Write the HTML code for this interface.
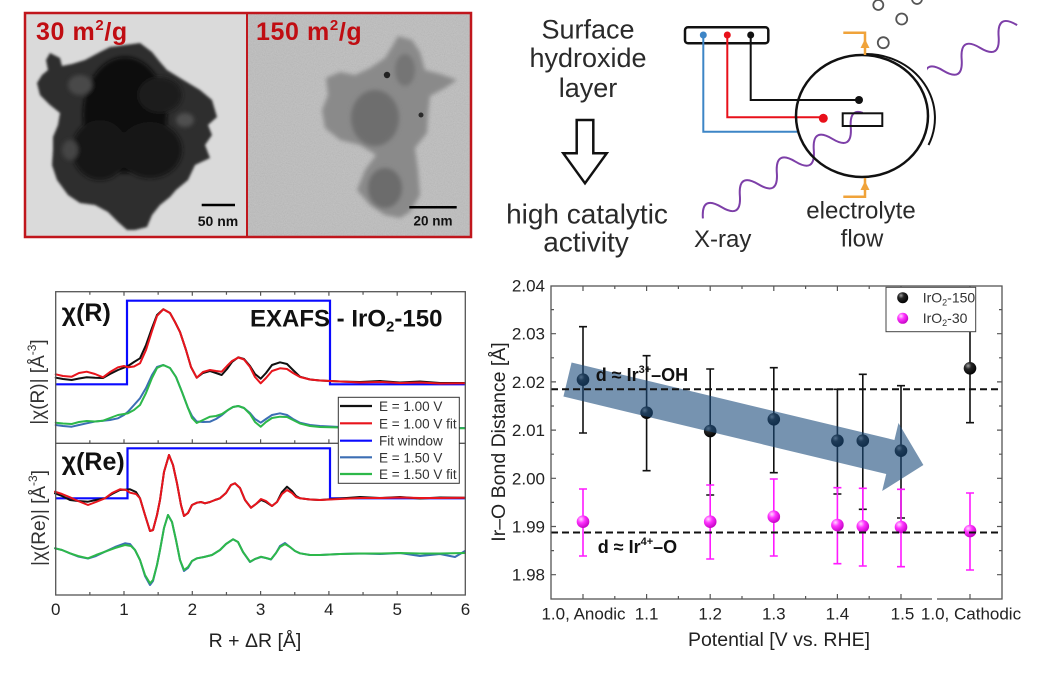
<!DOCTYPE html>
<html><head><meta charset="utf-8">
<style>
html,body{margin:0;padding:0;background:#fff;}
svg{display:block;}
text{font-family:"Liberation Sans",Arial,sans-serif;}
</style></head>
<body>
<svg width="1051" height="675" viewBox="0 0 1051 675" xmlns="http://www.w3.org/2000/svg">
<defs>
  <radialGradient id="gb" cx="0.35" cy="0.3" r="0.75">
    <stop offset="0" stop-color="#a0a0a0"/><stop offset="0.35" stop-color="#252525"/><stop offset="1" stop-color="#000"/>
  </radialGradient>
  <radialGradient id="gm" cx="0.35" cy="0.3" r="0.75">
    <stop offset="0" stop-color="#ffd8ff"/><stop offset="0.4" stop-color="#ff33ff"/><stop offset="1" stop-color="#c000c0"/>
  </radialGradient>
  <filter id="b1" x="-10%" y="-10%" width="120%" height="120%"><feGaussianBlur stdDeviation="1.2"/></filter>
  <filter id="b2" x="-10%" y="-10%" width="120%" height="120%"><feGaussianBlur stdDeviation="2.2"/></filter>
  <filter id="noise"><feTurbulence type="fractalNoise" baseFrequency="0.9" numOctaves="1" seed="4"/><feColorMatrix type="saturate" values="0"/><feComponentTransfer><feFuncA type="table" tableValues="0 0.3"/></feComponentTransfer></filter>
  <clipPath id="tl"><rect x="26" y="14" width="221" height="222"/></clipPath>
  <clipPath id="tr"><rect x="247" y="14" width="223" height="222"/></clipPath>
  <clipPath id="wc"><path clip-rule="evenodd" d="M0,0H1051V675H0Z M863,100 L927,60 L927,98 L863,140Z"/></clipPath>
</defs>

<!-- ============ TEM images ============ -->
<rect x="26" y="14" width="221" height="222" fill="#dadada"/>
<rect x="247" y="14" width="223" height="222" fill="#bdbdbd"/>
<rect x="247" y="14" width="223" height="222" filter="url(#noise)" clip-path="url(#tr)"/>
<g clip-path="url(#tl)">
  <path filter="url(#b1)" fill="#2e2e2e" d="M50,53 L60,58 L62,66 L72,64 L85,60 L100,52 L110,47 L125,45 L140,43 L152,52 L160,62 L167,70 L180,78 L200,90 L212,100 L217,117 L208,125 L212,135 L205,145 L210,158 L195,165 L188,180 L176,190 L170,197 L160,205 L152,215 L147,227 L135,230 L127,230 L118,222 L108,212 L95,205 L80,203 L68,195 L57,180 L52,165 L53,150 L53,137 L58,125 L60,113 L50,105 L40,95 L37,83 L42,75 L48,70 L46,60 Z"/>
  <g filter="url(#b2)">
    <ellipse cx="125" cy="115" rx="42" ry="58" fill="#080808"/>
    <ellipse cx="100" cy="150" rx="28" ry="30" fill="#141414"/>
    <ellipse cx="150" cy="150" rx="32" ry="28" fill="#161616"/>
    <ellipse cx="160" cy="95" rx="22" ry="18" fill="#1c1c1c"/>
    <ellipse cx="80" cy="85" rx="12" ry="10" fill="#4a4a4a"/>
    <ellipse cx="185" cy="120" rx="9" ry="7" fill="#505050"/>
    <ellipse cx="70" cy="150" rx="8" ry="10" fill="#444"/>
  </g>
</g>
<g clip-path="url(#tr)">
  <path filter="url(#b2)" fill="#8a8a8a" d="M398,36 L412,40 L420,52 L425,70 L440,74 L457,80 L445,88 L430,96 L428,115 L427,133 L415,148 L418,170 L420,195 L410,212 L400,218 L385,215 L370,205 L357,190 L365,170 L376,155 L360,145 L340,140 L325,128 L322,110 L328,95 L326,78 L340,72 L355,75 L370,68 L385,58 L393,45 Z"/>
  <g filter="url(#b2)">
    <ellipse cx="375" cy="118" rx="24" ry="28" fill="#6e6e6e"/>
    <ellipse cx="385" cy="188" rx="17" ry="20" fill="#6c6c6c"/>
    <ellipse cx="405" cy="70" rx="10" ry="16" fill="#747474"/>
  </g>
  <circle cx="387" cy="75" r="3.2" fill="#222"/>
  <circle cx="421" cy="115" r="2.5" fill="#2a2a2a"/>
</g>
<rect x="25" y="13" width="446" height="224" fill="none" stroke="#c0161c" stroke-width="2.5"/>
<line x1="247" y1="13" x2="247" y2="237" stroke="#c0161c" stroke-width="2"/>
<text x="36" y="40" font-size="25" font-weight="bold" fill="#c00d12" letter-spacing="0.6">30 m<tspan font-size="15" dy="-10">2</tspan><tspan dy="10">/g</tspan></text>
<text x="256" y="40" font-size="25" font-weight="bold" fill="#c00d12" letter-spacing="0.6">150 m<tspan font-size="15" dy="-10">2</tspan><tspan dy="10">/g</tspan></text>
<line x1="201.7" y1="205" x2="235" y2="205" stroke="#000" stroke-width="2.5"/>
<text x="218" y="226" font-size="14" font-weight="bold" text-anchor="middle" fill="#111">50 nm</text>
<line x1="409.3" y1="207.3" x2="456.7" y2="207.3" stroke="#000" stroke-width="2.5"/>
<text x="433" y="225.5" font-size="13.5" font-weight="bold" text-anchor="middle" fill="#111">20 nm</text>

<!-- ============ Schematic ============ -->
<g fill="#2a2a2a" font-size="27" text-anchor="middle">
  <text x="588" y="38.5">Surface</text>
  <text x="588" y="67">hydroxide</text>
  <text x="588" y="97">layer</text>
  <text x="587" y="223.5" font-size="28">high catalytic</text>
  <text x="586" y="251.5" font-size="28">activity</text>
</g>
<polygon points="576.7,120 593.3,120 593.3,153.3 606.7,153.3 585,183.3 563.3,153.3 576.7,153.3" fill="#fff" stroke="#111" stroke-width="2.5" stroke-linejoin="miter"/>

<!-- X-ray wave -->
<g clip-path="url(#wc)">
<path transform="translate(702.9,218.4) rotate(-31.6)" fill="none" stroke="#7d3fa8" stroke-width="2" d="M0,0 q10.85,-21 21.7,0 t21.7,0 t21.7,0 t21.7,0 t21.7,0 t21.7,0 t21.7,0 t21.7,0 t21.7,0 t21.7,0 t21.7,0 t21.7,0 t21.7,0 t21.7,0 t21.7,0 t21.7,0 t21.7,0"/>
</g>

<!-- wires -->
<rect x="685" y="27.3" width="83.3" height="16" rx="3" fill="none" stroke="#111" stroke-width="2.5"/>
<path d="M703.3,35 V131.7 H797" fill="none" stroke="#3d85c6" stroke-width="2"/>
<path d="M727.3,35 V117.3 H823" fill="none" stroke="#e8101a" stroke-width="2"/>
<path d="M750.7,35 V100 H859" fill="none" stroke="#111" stroke-width="2"/>
<circle cx="703.3" cy="35" r="3.5" fill="#3d85c6"/>
<circle cx="727.3" cy="35" r="3.5" fill="#e8101a"/>
<circle cx="750.7" cy="35" r="3.5" fill="#111"/>
<!-- cell -->
<ellipse cx="862" cy="116" rx="66" ry="61" fill="none" stroke="#111" stroke-width="2.5"/>
<path d="M866,54 A69,64 0 0 1 928.5,145" fill="none" stroke="#111" stroke-width="2"/>
<rect x="842.7" y="113.3" width="39.6" height="12.7" fill="none" stroke="#111" stroke-width="2"/>
<circle cx="823.3" cy="118.3" r="4.5" fill="#e8101a"/>
<circle cx="859" cy="100" r="4" fill="#111"/>
<!-- electrolyte flow -->
<path d="M843.3,32.7 H865 V55" fill="none" stroke="#f0a33a" stroke-width="2.5"/>
<polygon points="865,39 860.5,48 869.5,48" fill="#f0a33a"/>
<path d="M865,178 V196.7 H843.3" fill="none" stroke="#f0a33a" stroke-width="2.5"/>
<polygon points="865,181 860.5,190 869.5,190" fill="#f0a33a"/>
<!-- bubbles -->
<g fill="none" stroke="#555" stroke-width="1.8">
  <circle cx="878.3" cy="5" r="5"/>
  <circle cx="901.7" cy="19" r="5.5"/>
  <circle cx="883.3" cy="42.7" r="5.5"/>
  <circle cx="917" cy="-1" r="5"/>
</g>
<g fill="#2a2a2a" font-size="24">
  <text x="694" y="247">X-ray</text>
  <text x="861" y="218.5" text-anchor="middle">electrolyte</text>
  <text x="862" y="246.5" text-anchor="middle">flow</text>
</g>

<!-- ============ EXAFS plot ============ -->
<path d="M55.7,384.3 H127 V300.7 H330 V384.3 H465.3" fill="none" stroke="#0a0aff" stroke-width="2.2"/>
<path d="M55.7,498.3 H127.5 V448.3 H330 V498.3 H465.3" fill="none" stroke="#0a0aff" stroke-width="2.2"/>

<g fill="none" stroke-width="2" stroke-linejoin="round" stroke-linecap="round">
<path stroke="#111" d="M55.7,377.7 L63,379 L71.7,380 L79,378.5 L86.7,377.3 L95,377.8 L103,378 L110,374 L118,370 L128,366 L134,362 L140,358.3 L146,345 L152,328 L157,315 L163.3,309.3 L170,313 L175,322 L180,332 L186,350 L191,367 L196.7,377.7 L203,373 L210,371 L216,373 L221.7,375 L227,369 L232,362 L238.3,357.3 L244,359 L250,366 L255,374 L260.7,378.7 L266,373 L272,365 L280,362.3 L287,364 L293,370 L300,376.7 L310,379.5 L320,380.5 L340,381.5 L360,382 L380,381 L400,382.5 L420,381.5 L440,383 L465,383"/>
<path stroke="#e8141c" d="M55.7,374.3 L63,376 L71.7,376.7 L79,373 L86.7,371.7 L95,374 L103,377.3 L110,372 L118,367.3 L124,366 L128,367.3 L134,366.5 L140,363.3 L146,350 L152,331 L157,316 L163.3,309.3 L170,313 L175,322 L180,332 L186,350 L191,367 L196.7,377.7 L203,372 L210,370 L216,371 L221.7,371.7 L227,366 L232,361 L238.3,357.5 L244,359.5 L250,367 L255,377 L260.7,383.3 L266,378 L272,371 L280,368.3 L287,369 L293,373 L300,377 L310,379.5 L320,380.5 L340,381.5 L360,382.5 L380,382 L400,383 L420,382.5 L440,383.5 L465,383.3"/>
<path stroke="#3c6eb4" d="M55.7,425 L63,426 L71.7,426.7 L79,425 L86.7,423.3 L95,421.5 L103,420.7 L110,420 L118,418.3 L124,415 L128,411.7 L134,405 L140,398.3 L146,388 L152,375 L157,367 L163.3,365 L170,368 L176,377 L182,392 L188,408 L192,416 L196.7,421.5 L203,422 L210,421.7 L216,419 L222,415 L228,410 L233,407 L238.3,406 L244,408 L250,413 L255,419 L260.7,422.7 L266,419 L272,415 L280,413.3 L287,415 L293,419 L300,422.7 L310,425 L320,426 L340,427 L360,427 L380,427.5 L400,428 L420,428 L440,428 L465,428"/>
<path stroke="#2db84a" d="M55.7,422.7 L63,423.5 L71.7,424 L79,422 L86.7,421 L95,421.5 L103,420.7 L110,418 L118,415 L124,414 L128,413.3 L134,410 L140,405 L146,393 L152,378 L157,368 L163.3,365 L170,368 L176,377 L182,392 L188,408 L192,418 L196.7,423 L203,420 L210,416.7 L216,416 L222,414 L228,410 L233,407 L238.3,406 L244,408 L250,414 L255,422 L260.7,426.7 L266,422 L272,418 L280,416.7 L287,417 L293,420 L300,423.5 L310,426 L320,427 L340,427.5 L360,428 L380,428 L400,428.5 L465,428.3"/>
<path stroke="#111" d="M55,493.3 L62,496 L70,500 L78,501 L88,501.7 L96,500 L105,498.3 L112,494 L120,490 L130,489.3 L136,492 L140,498.3 L145,515 L150,531 L153,530 L157,515 L160,500 L164,472 L169,455 L173,465 L177,483.3 L181,505 L184,516 L188,513 L192,505 L197,502.7 L201,502 L205,503.3 L210,502 L215,500 L220,498.3 L226,493 L231,485 L235,483.3 L240,488 L245,500 L251,507.7 L256,504 L261,500 L266,502 L272,506 L277,502 L282,492 L287,486.7 L292,491 L296,496 L300,498.3 L310,499.5 L320,500 L340,498.5 L360,497 L380,498 L400,497 L420,498.5 L440,497.5 L465,497.7"/>
<path stroke="#e8141c" d="M55,491.7 L62,494 L70,497.3 L78,501 L88,505 L96,502 L105,498.3 L112,493 L120,489.3 L126,490 L130,492.7 L136,494 L140,498.3 L145,515 L150,531 L153,530 L157,515 L160,500 L164,472 L169,455 L173,465 L177,483.3 L181,505 L184,516 L188,513 L192,505 L197,502.7 L201,502 L205,503.3 L210,502 L215,500 L220,498.3 L226,493 L231,485 L235,483.3 L240,488 L245,500 L251,507.7 L256,504 L261,499 L266,501 L272,506 L277,502 L282,494 L287,490 L292,493 L296,497 L300,498.3 L310,499.5 L320,500 L340,499 L360,498 L380,498 L400,497.5 L420,498 L440,498 L465,497.7"/>
<path stroke="#3c6eb4" d="M55,548.3 L62,550 L70,553.3 L78,556.5 L88,558.5 L96,556 L105,551.7 L115,547 L125,543.3 L130,544 L135,550 L140,560 L145,576 L150,585 L153,581 L157,565 L160,550 L164,528 L168,515 L172,522 L176,540 L180,560 L184,571 L188,568 L192,561 L197,558.3 L204,557 L212,555 L220,550 L226,544 L233,539.3 L238,542 L243,552 L250,562 L255,559 L261,557 L266,558 L271,559.5 L276,553 L280,546 L285,543 L290,547 L295,551 L300,553.3 L310,555 L320,555 L340,554 L360,553.5 L380,554 L400,553 L420,556 L440,554 L455,557 L465,551"/>
<path stroke="#2db84a" d="M55,548.3 L62,550 L70,553.3 L78,556 L88,558.3 L96,555 L105,551.7 L115,548 L125,545 L131,546 L135,550 L140,560 L145,575 L150,583.3 L153,580 L157,565 L160,550 L164,528 L168,515 L172,522 L176,540 L180,560 L184,570 L188,567 L192,561 L197,558.3 L204,557 L212,555 L220,550 L226,544 L233,539.3 L238,542 L243,552 L250,561.7 L255,559 L261,556.7 L266,558 L271,559.3 L276,553 L280,547 L285,544 L290,547 L295,551 L300,553.3 L310,555 L320,555 L340,554 L360,553.5 L380,553.5 L400,553 L420,553.5 L440,553.5 L465,553"/>
</g>

<rect x="55.7" y="291.7" width="409.6" height="303.3" fill="none" stroke="#555" stroke-width="1.3"/>
<line x1="55.7" y1="443.3" x2="465.3" y2="443.3" stroke="#555" stroke-width="1.3"/>
<path stroke="#555" stroke-width="1.2" fill="none" d="
M89.85,291.7v3 M124,291.7v4 M158.15,291.7v3 M192.3,291.7v4 M226.45,291.7v3 M260.6,291.7v4 M294.75,291.7v3 M328.9,291.7v4 M363.05,291.7v3 M397.2,291.7v4 M431.35,291.7v3
M89.85,443.3v-3 M124,443.3v-4 M158.15,443.3v-3 M192.3,443.3v-4 M226.45,443.3v-3 M260.6,443.3v-4 M294.75,443.3v-3 M328.9,443.3v-4 M363.05,443.3v-3 M397.2,443.3v-4 M431.35,443.3v-3
M89.85,595v-3 M124,595v-4 M158.15,595v-3 M192.3,595v-4 M226.45,595v-3 M260.6,595v-4 M294.75,595v-3 M328.9,595v-4 M363.05,595v-3 M397.2,595v-4 M431.35,595v-3"/>

<rect x="338.3" y="397.3" width="121" height="86" fill="#fff" stroke="#333" stroke-width="1"/>
<g stroke-width="2.2">
  <line x1="340" y1="406" x2="372" y2="406" stroke="#111"/>
  <line x1="340" y1="423.3" x2="372" y2="423.3" stroke="#e8141c"/>
  <line x1="340" y1="440.7" x2="372" y2="440.7" stroke="#0a0aff"/>
  <line x1="340" y1="457.3" x2="372" y2="457.3" stroke="#3c6eb4"/>
  <line x1="340" y1="474" x2="372" y2="474" stroke="#2db84a"/>
</g>
<g font-size="13.5" fill="#333">
  <text x="379" y="411">E = 1.00 V</text>
  <text x="379" y="428.3">E = 1.00 V fit</text>
  <text x="379" y="445.7">Fit window</text>
  <text x="379" y="462.3">E = 1.50 V</text>
  <text x="379" y="479">E = 1.50 V fit</text>
</g>

<text x="61.7" y="321" font-size="25" font-weight="bold" fill="#111">χ(R)</text>
<text x="61.7" y="470" font-size="25" font-weight="bold" fill="#111">χ(Re)</text>
<text x="250" y="326.5" font-size="24" font-weight="bold" fill="#111">EXAFS - IrO<tspan font-size="15" dy="5">2</tspan><tspan dy="-5">-150</tspan></text>

<g font-size="19" fill="#333" text-anchor="middle">
  <text transform="translate(44,382) rotate(-90)">|χ(R)| [Å<tspan font-size="12" dy="-8">-3</tspan><tspan dy="8">]</tspan></text>
  <text transform="translate(45,518) rotate(-90)">|χ(Re)| [Å<tspan font-size="12" dy="-8">-3</tspan><tspan dy="8">]</tspan></text>
</g>
<g font-size="17" fill="#222" text-anchor="middle">
  <text x="55.7" y="615">0</text>
  <text x="124" y="615">1</text>
  <text x="192.3" y="615">2</text>
  <text x="260.6" y="615">3</text>
  <text x="328.9" y="615">4</text>
  <text x="397.2" y="615">5</text>
  <text x="465.5" y="615">6</text>
</g>
<text x="255" y="647" font-size="19.5" fill="#222" text-anchor="middle">R + ΔR [Å]</text>

<!-- ============ Bond distance plot ============ -->
<g stroke="#111" stroke-width="1.6" fill="none">
  <path d="M583,326.7V433 M579,326.7h8 M579,433h8"/>
  <path d="M646.6,355.7V470.7 M642.6,355.7h8 M642.6,470.7h8"/>
  <path d="M710.2,369V495 M706.2,369h8 M706.2,495h8"/>
  <path d="M773.8,367.7V472.7 M769.8,367.7h8 M769.8,472.7h8"/>
  <path d="M837.4,389.3V494 M833.4,389.3h8 M833.4,494h8"/>
  <path d="M862.8,374.3V509.3 M858.8,374.3h8 M858.8,509.3h8"/>
  <path d="M901,385.7V518 M897,385.7h8 M897,518h8"/>
  <path d="M970,300V422.7 M966,422.7h8"/>
</g>
<g fill="url(#gb)">
  <circle cx="583" cy="379.7" r="6.3"/>
  <circle cx="646.6" cy="412.7" r="6.3"/>
  <circle cx="710.2" cy="431" r="6.3"/>
  <circle cx="773.8" cy="419.3" r="6.3"/>
  <circle cx="837.4" cy="440.7" r="6.3"/>
  <circle cx="862.8" cy="440.7" r="6.3"/>
  <circle cx="901" cy="450.7" r="6.3"/>
  <circle cx="970" cy="368.3" r="6.3"/>
</g>
<g stroke="#ff1aff" stroke-width="1.6" fill="none">
  <path d="M583,489V556 M579,489h8 M579,556h8"/>
  <path d="M710.2,485V559 M706.2,485h8 M706.2,559h8"/>
  <path d="M773.8,479V556 M769.8,479h8 M769.8,556h8"/>
  <path d="M837.4,487.7V563.7 M833.4,487.7h8 M833.4,563.7h8"/>
  <path d="M862.8,488.3V566 M858.8,488.3h8 M858.8,566h8"/>
  <path d="M901,489.3V566.7 M897,489.3h8 M897,566.7h8"/>
  <path d="M970,493V570 M966,493h8 M966,570h8"/>
</g>
<g fill="url(#gm)">
  <circle cx="583" cy="521.7" r="6.3"/>
  <circle cx="710.2" cy="521.7" r="6.3"/>
  <circle cx="773.8" cy="516.7" r="6.3"/>
  <circle cx="837.4" cy="525" r="6.3"/>
  <circle cx="862.8" cy="526.3" r="6.3"/>
  <circle cx="901" cy="527" r="6.3"/>
  <circle cx="970" cy="531" r="6.3"/>
</g>
<polygon transform="translate(567.5,379.5) rotate(13.5)" points="0,-17.5 332,-17.5 332,-35 366,0 332,35 332,17.5 0,17.5" fill="rgb(27,75,123)" fill-opacity="0.6"/>
<line x1="551" y1="389.2" x2="1002" y2="389.2" stroke="#111" stroke-width="2" stroke-dasharray="7,4"/>
<line x1="551" y1="532.5" x2="1002" y2="532.5" stroke="#111" stroke-width="2" stroke-dasharray="7,4"/>
<text x="595.7" y="381" font-size="18" font-weight="bold" fill="#111">d ≈ Ir<tspan font-size="11" dy="-8">3+</tspan><tspan dy="8">–OH</tspan></text>
<text x="597.7" y="553" font-size="18" font-weight="bold" fill="#111">d ≈ Ir<tspan font-size="11" dy="-8">4+</tspan><tspan dy="8">–O</tspan></text>

<rect x="551" y="286" width="451" height="313" fill="none" stroke="#555" stroke-width="1.3"/>
<path stroke="#555" stroke-width="1.2" fill="none" d="
M551,333.7h5 M551,381.9h5 M551,430.1h5 M551,478.3h5 M551,526.5h5 M551,574.7h5
M551,309.6h3 M551,357.8h3 M551,406h3 M551,454.2h3 M551,502.4h3 M551,550.6h3
M1002,333.7h-5 M1002,381.9h-5 M1002,430.1h-5 M1002,478.3h-5 M1002,526.5h-5 M1002,574.7h-5
M1002,309.6h-3 M1002,357.8h-3 M1002,406h-3 M1002,454.2h-3 M1002,502.4h-3 M1002,550.6h-3
M583,599v-5 M646.6,599v-5 M710.2,599v-5 M773.8,599v-5 M837.4,599v-5 M901,599v-5 M970,599v-5
M614.8,599v-3 M678.4,599v-3 M742,599v-3 M805.6,599v-3 M869.2,599v-3
M583,286v5 M646.6,286v5 M710.2,286v5 M773.8,286v5 M837.4,286v5 M901,286v5 M970,286v5
M614.8,286v3 M678.4,286v3 M742,286v3 M805.6,286v3 M869.2,286v3"/>
<rect x="932" y="596" width="5" height="6" fill="#fff"/>

<rect x="886" y="287.3" width="89.7" height="44.4" fill="#fff" stroke="#444" stroke-width="1"/>
<circle cx="902.7" cy="297.7" r="5.5" fill="url(#gb)"/>
<circle cx="902.7" cy="318.3" r="5.5" fill="url(#gm)"/>
<g font-size="14" fill="#333">
  <text x="922.7" y="302.5">IrO<tspan font-size="9" dy="3">2</tspan><tspan dy="-3">-150</tspan></text>
  <text x="922.7" y="323">IrO<tspan font-size="9" dy="3">2</tspan><tspan dy="-3">-30</tspan></text>
</g>

<g font-size="17" fill="#222" text-anchor="end">
  <text x="545" y="291.5">2.04</text>
  <text x="545" y="339.7">2.03</text>
  <text x="545" y="387.9">2.02</text>
  <text x="545" y="436.1">2.01</text>
  <text x="545" y="484.3">2.00</text>
  <text x="545" y="532.5">1.99</text>
  <text x="545" y="580.7">1.98</text>
</g>
<g font-size="17" fill="#222" text-anchor="middle">
  <text x="583.5" y="619.5">1.0, Anodic</text>
  <text x="646.6" y="619.5">1.1</text>
  <text x="710.2" y="619.5">1.2</text>
  <text x="773.8" y="619.5">1.3</text>
  <text x="837.4" y="619.5">1.4</text>
  <text x="902.5" y="619.5">1.5</text>
  <text x="971" y="619.5">1.0, Cathodic</text>
</g>
<text x="779" y="646" font-size="19.5" fill="#222" text-anchor="middle">Potential [V vs. RHE]</text>
<text transform="translate(505,442) rotate(-90)" font-size="19.5" fill="#222" text-anchor="middle">Ir–O Bond Distance [Å]</text>
</svg>
</body></html>
